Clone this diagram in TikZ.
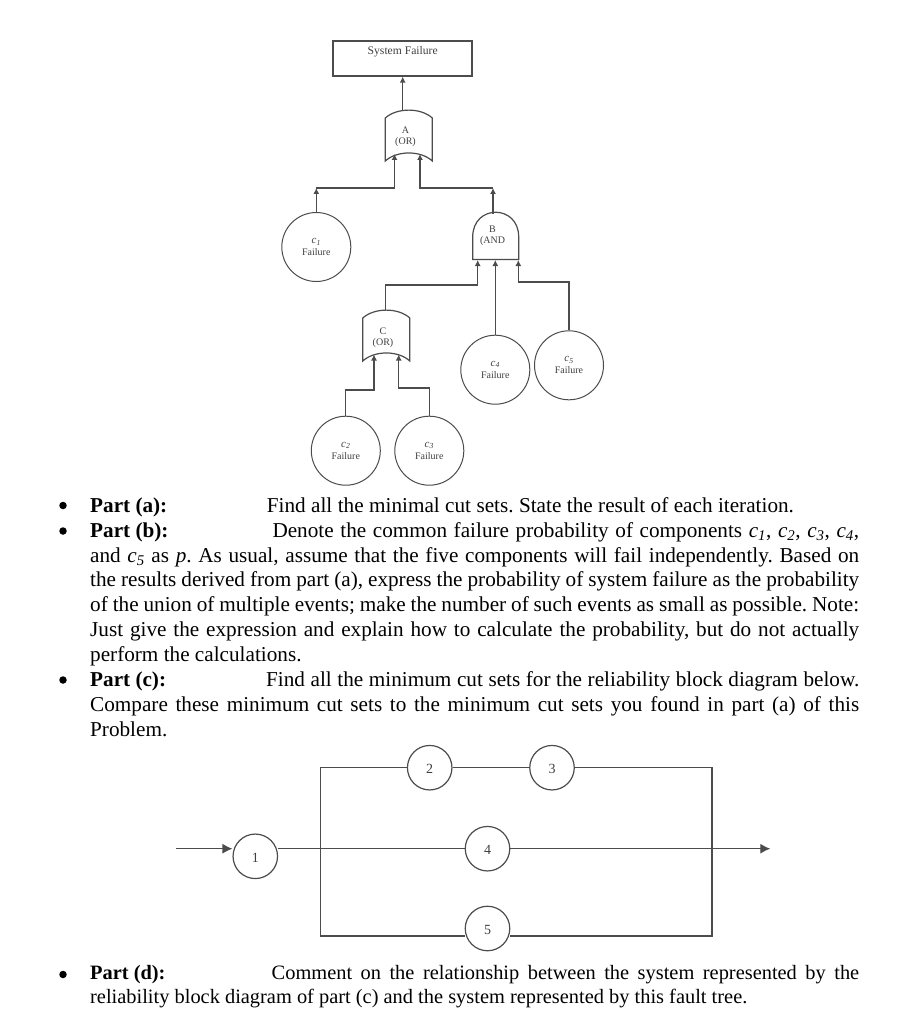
\documentclass[tikz,border=0pt]{standalone}
\usepackage{fontspec}
\setmainfont{Liberation Serif}
\usepackage{tikz}
\usetikzlibrary{positioning,arrows.meta}
\newcommand{\tline}[2][769pt]{\hbox to #1{\spaceskip=.25em plus 1em minus .2em\relax #2}}
\newcommand{\subc}[1]{\textit{c\textsubscript{#1}}}
\newcommand{\failtext}[1]{{\fontsize{11}{12}\selectfont\subc{#1}}\\Failure}
\tikzset{
  every node/.style={inner sep=0pt},
  line/.style={draw=black!70,line width=1.2pt},
  into/.style={line,-{Latex[length=6pt,width=6pt]}},
  flow/.style={line,-{Latex[length=10pt,width=10pt]}},
  failcirc/.style={circle,draw=black!70,line width=1pt,minimum size=69pt,align=center,font=\fontsize{10}{12}\selectfont,text=black!75},
  blockcirc/.style={circle,draw=black!70,line width=1.2pt,minimum size=44.5pt,text height=11.5pt,text depth=0pt,font=\fontsize{14}{14}\selectfont,text=black!75},
  gatetext/.style={align=center,font=\fontsize{10}{11}\selectfont,text=black!75},
  body/.style={anchor=base west,font=\fontsize{21.2}{24}\selectfont\frenchspacing},
  bodyd/.style={anchor=base west,font=\fontsize{20.4}{24}\selectfont\frenchspacing},
  bullet/.style={circle,fill=black,minimum size=7.5pt}
}
\newcommand{\orgate}[3]{% name, centre x, top y
  \draw[line] (#2-23.5,#3+51) -- (#2-23.5,#3+8) .. controls (#2-12,#3-2.5) and (#2+12,#3-2.5) .. (#2+23.5,#3+8)
    -- (#2+23.5,#3+51) .. controls (#2+12,#3+40.3) and (#2-12,#3+40.3) .. cycle;
}
\begin{document}
\begin{tikzpicture}[x=1pt,y=-1pt]
\useasboundingbox (0,0) rectangle (899,1024);
\fill[white] (0,0) rectangle (899,1024);
% Fault tree
\node[draw=black!70,line width=1.2pt,minimum width=139pt,minimum height=35pt] (sys) at (402.5,58.5) {};
\node[gatetext,font=\fontsize{11.6}{13}\selectfont] (systext) at (402.7,52) {System Failure};
% gates
\orgate{a}{408.8}{110}
\coordinate (atop) at (402.7,110);
\node[gatetext] (atext) at (405.5,137) {A\\(OR)};
\draw[line] (472.7,259.5) -- (472.7,237) .. controls (472.7,204) and (518.7,204) .. (518.7,237) -- (518.7,259.5) -- cycle;
\coordinate (btop) at (493,214);
\node[gatetext] (btext) at (492.5,236) {B\\(AND};
\orgate{c}{386.3}{310}
\coordinate (ctop) at (385.3,310);
\node[gatetext] (ctext) at (383,337.5) {C\\(OR)};
% failure events
\node[failcirc] (c1) at (316.3,247) {\failtext{1}};
\node[failcirc] (c2) at (345.8,450.7) {\failtext{2}};
\node[failcirc] (c3) at (429.3,450.7) {\failtext{3}};
\node[failcirc] (c4) at (495.3,369.7) {\failtext{4}};
\node[failcirc] (c5) at (569,365.3) {\failtext{5}};
% connections
\coordinate (an1) at (394.5,154);
\coordinate (an2) at (420,154);
\coordinate (cn1) at (374,354.5);
\coordinate (cn2) at (398.7,354.5);
\coordinate (bn1) at (477.7,260);
\coordinate (bn2) at (495.3,260);
\coordinate (bn3) at (518.3,260);
\coordinate (aleft) at (316.3,188);
\coordinate (aright) at (493,188);
\draw[into] (atop) -- (sys.south -| atop);
\draw[into] (c1.north) -- (aleft);
\draw[into] (aleft) -- (an1 |- aleft) -- (an1);
\draw[into] (btop) -- (aright);
\draw[into] (aright) -- (an2 |- aright) -- (an2);
\draw[into] (ctop) -- (385.3,285) -- (bn1 |- 0,285) -- (bn1);
\draw[into] (c4.north) -- (bn2);
\draw[into] (c5.north) -- (c5.north |- 0,282) -- (bn3 |- 0,282) -- (bn3);
\draw[into] (c2.north) -- (c2.north |- 0,390) -- (cn1 |- 0,390) -- (cn1);
\draw[into] (c3.north) -- (c3.north |- 0,388) -- (cn2 |- 0,388) -- (cn2);
% Text
\foreach \by [count=\i] in {505.5,531,680,974.5} \node[bullet] (dot\i) at (63,\by) {};
\node[body] (l1) at (90,512) {\textbf{Part (a):}};
\node[body] (l1b) at (266.7,512) {\tline[527pt]{Find all the minimal cut sets. State the result of each iteration.}};
\node[body] (l2) at (90,537) {\textbf{Part (b):}};
\node[body] (l2b) at (272.3,537) {\tline[586.7pt]{Denote the common failure probability of components \subc{1}, \subc{2}, \subc{3}, \subc{4},}};
\node[body] (l3) at (90,562) {\tline{and \subc{5} as \textit{p}. As usual, assume that the five components will fail independently. Based on}};
\node[body] (l4) at (90,586.5) {\tline{the results derived from part (a), express the probability of system failure as the probability}};
\node[body] (l5) at (90,611.5) {\tline{of the union of multiple events; make the number of such events as small as possible. Note:}};
\node[body] (l6) at (90,636) {\tline{Just give the expression and explain how to calculate the probability, but do not actually}};
\node[body] (l7) at (90,661) {perform the calculations.};
\node[body] (l8) at (90,686.5) {\textbf{Part (c):}};
\node[body] (l8b) at (266,686.5) {\tline[593pt]{Find all the minimum cut sets for the reliability block diagram below.}};
\node[body] (l9) at (90,711) {\tline{Compare these minimum cut sets to the minimum cut sets you found in part (a) of this}};
\node[body] (l10) at (90,736) {Problem.};
\node[bodyd] (l11) at (90,979.5) {\textbf{Part (d):}};
\node[bodyd] (l11b) at (271.5,979.5) {\tline[587.5pt]{Comment on the relationship between the system represented by the}};
\node[bodyd] (l12) at (90,1003.5) {reliability block diagram of part (c) and the system represented by this fault tree.};
% Block diagram
\node[blockcirc] (b1) at (255.3,856.3) {1};
\node[blockcirc] (b2) at (429.7,767.7) {2};
\node[blockcirc] (b3) at (552,767.7) {3};
\node[blockcirc] (b4) at (487.5,848.7) {4};
\node[blockcirc] (b5) at (487.5,928.5) {5};
\coordinate (in) at (175.7,848.7);
\coordinate (out) at (770.3,848.7);
\coordinate (botl) at (320.3,936);
\coordinate (botr) at (712,936);
\draw[flow] (in) -- (b1.west |- in);
\draw[line] (b1.east |- in) -- (b4.west);
\draw[flow] (b4.east) -- (out);
\draw[line] (b2.west) -- (botl |- b2.west) -- (botl) -- (b5.west |- botl);
\draw[line] (b2.east) -- (b3.west);
\draw[line] (b3.east) -- (botr |- b3.east) -- (botr) -- (b5.east |- botr);
\end{tikzpicture}
\end{document}
